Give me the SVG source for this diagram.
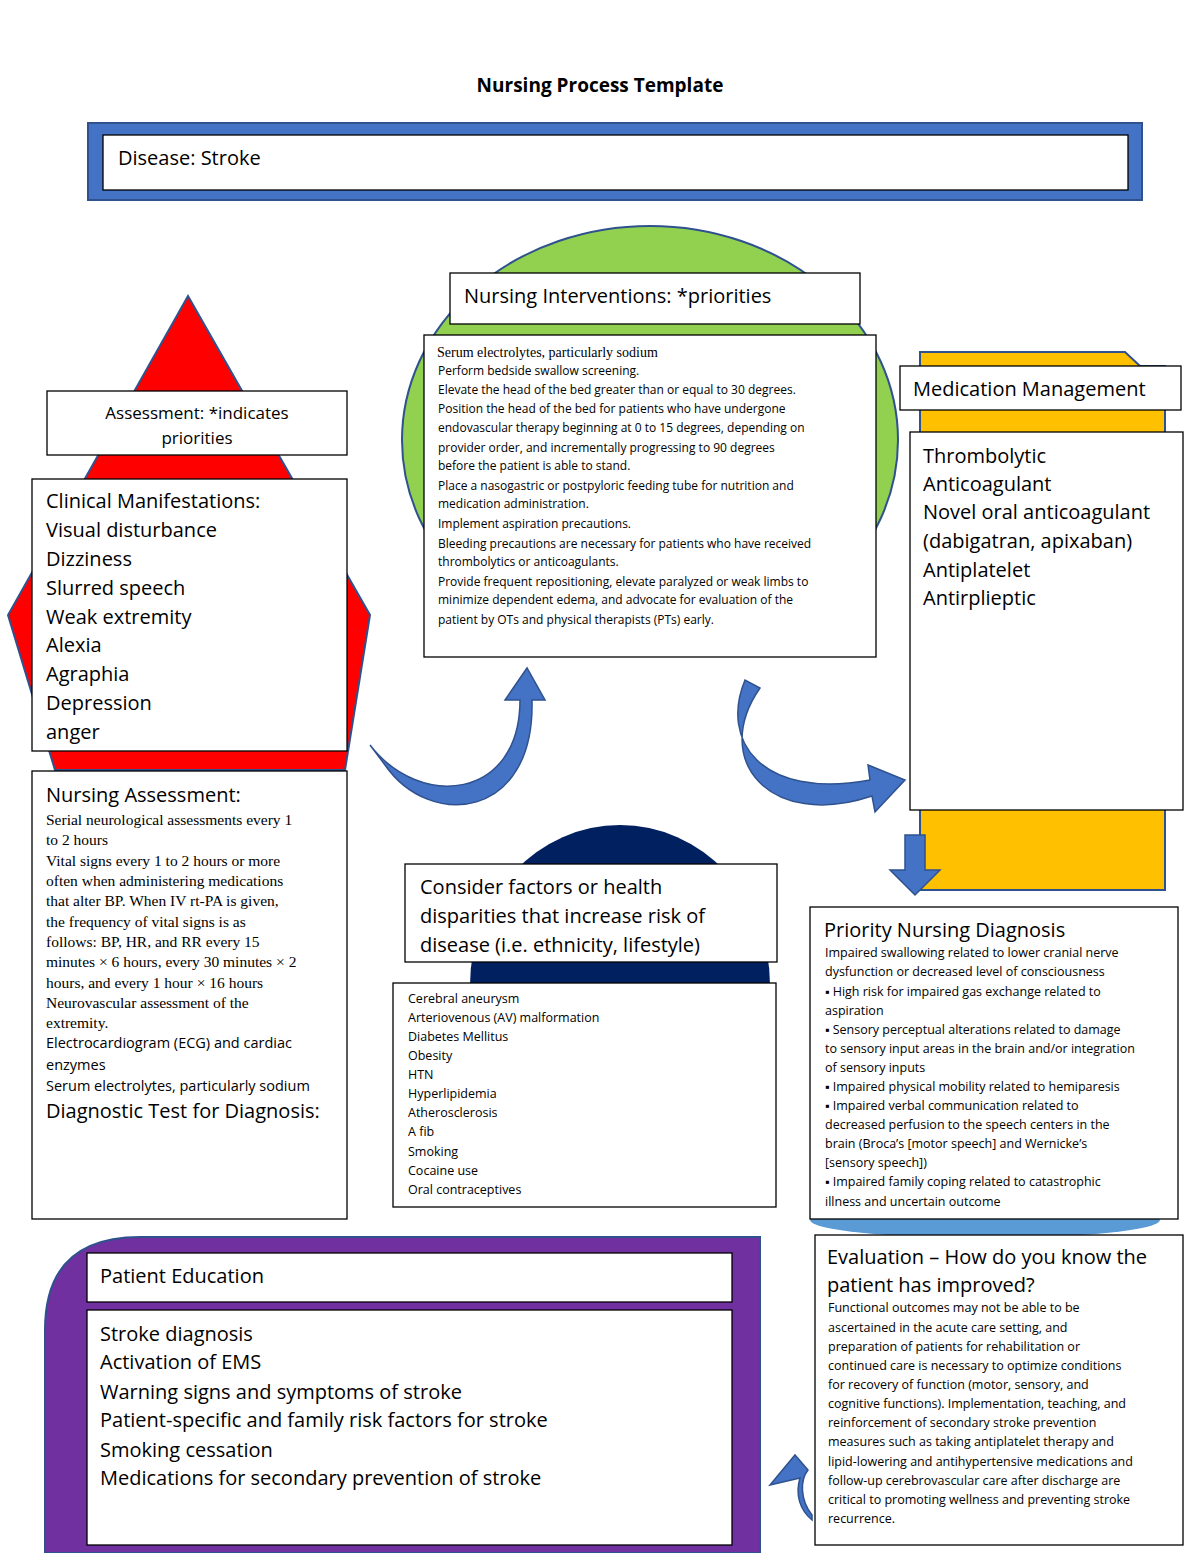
<svg xmlns="http://www.w3.org/2000/svg" width="1200" height="1553" viewBox="0 0 1200 1553">
<style>
.b{fill:#fff;stroke:#000;stroke-width:1.3}
.t{font-family:"Open Sans","Liberation Sans",sans-serif;fill:#000}
.s{font-family:"Liberation Serif",serif;fill:#000}
.ar{fill:#4472C4;stroke:#2F528F;stroke-width:1.5}
</style>
<rect width="1200" height="1553" fill="#fff"/>
<text class="t" x="600" y="92" text-anchor="middle" font-size="19" font-weight="bold">Nursing Process Template</text>
<g id="disease">
<polygon points="88,123 1142,123 1142,200 88,200" fill="#4472C4" stroke="#2F528F" stroke-width="2"/>
<rect x="103" y="135" width="1025" height="55" class="b"/>
<text class="t" x="118" y="165" font-size="20">Disease: Stroke</text>
</g>
<g id="shapes">
<polygon points="188,296 370,615 345,770 55,770 8,615" fill="#FF0000" stroke="#2F528F" stroke-width="2"/>
<ellipse cx="650" cy="440" rx="248" ry="214" fill="#92D050" stroke="#2F528F" stroke-width="2"/>
<ellipse cx="620" cy="985" rx="150" ry="160" fill="#002060"/>
<polygon points="920,352 1125,352 1140,366 1165,366 1165,890 920,890" fill="#FFC000" stroke="#2F528F" stroke-width="2"/>
<ellipse cx="985" cy="1220" rx="175" ry="18" fill="#5B9BD5"/>
<path d="M45,1553 V1330 Q45,1237 140,1237 H760 V1553 Z" fill="#7030A0" stroke="#2F528F" stroke-width="2"/>
</g>
<g id="connectors">
<path class="ar" d="M370,745 C420,810 520,800 520,700 L505,700 L527,668 L545,700 L532,700 C535,820 430,830 385,765 Z"/>
<path class="ar" d="M745,680 C720,740 760,800 870,780 L868,765 L905,780 L875,812 L872,796 C770,830 710,760 760,688 Z"/>
<polygon class="ar" points="905,835 925,835 925,870 940,870 915,895 890,870 905,870"/>
<path class="ar" d="M812,1515 C800,1500 800,1480 808,1470 L795,1455 L770,1485 L800,1478 C795,1495 800,1510 812,1520 Z"/>
</g>
<g id="assessment">
<rect x="47" y="391" width="300" height="64" class="b"/>
<text class="t" x="197" y="419" font-size="17" text-anchor="middle">Assessment: *indicates</text>
<text class="t" x="197" y="444" font-size="17" text-anchor="middle">priorities</text>
</g>
<g id="clinical">
<rect x="32" y="479" width="315" height="272" class="b"/>
<text class="t" font-size="20"><tspan x="46" y="508">Clinical Manifestations:</tspan><tspan x="46" y="537">Visual disturbance</tspan><tspan x="46" y="566">Dizziness</tspan><tspan x="46" y="595">Slurred speech</tspan><tspan x="46" y="624">Weak extremity</tspan><tspan x="46" y="652">Alexia</tspan><tspan x="46" y="681">Agraphia</tspan><tspan x="46" y="710">Depression</tspan><tspan x="46" y="739">anger</tspan></text>
</g>
<g id="nursingAssessment">
<rect x="32" y="771" width="315" height="448" class="b"/>
<text class="t" x="46" y="802" font-size="20">Nursing Assessment:</text>
<text class="s" font-size="15.5"><tspan x="46" y="825">Serial neurological assessments every 1</tspan><tspan x="46" y="845">to 2 hours</tspan><tspan x="46" y="866">Vital signs every 1 to 2 hours or more</tspan><tspan x="46" y="886">often when administering medications</tspan><tspan x="46" y="906">that alter BP. When IV rt-PA is given,</tspan><tspan x="46" y="927">the frequency of vital signs is as</tspan><tspan x="46" y="947">follows: BP, HR, and RR every 15</tspan><tspan x="46" y="967">minutes × 6 hours, every 30 minutes × 2</tspan><tspan x="46" y="988">hours, and every 1 hour × 16 hours</tspan><tspan x="46" y="1008">Neurovascular assessment of the</tspan><tspan x="46" y="1028">extremity.</tspan></text>
<text class="t" font-size="14.5"><tspan x="46" y="1048">Electrocardiogram (ECG) and cardiac</tspan><tspan x="46" y="1070">enzymes</tspan><tspan x="46" y="1091">Serum electrolytes, particularly sodium</tspan></text>
<text class="t" x="46" y="1118" font-size="20">Diagnostic Test for Diagnosis:</text>
</g>
<g id="interventionsTitle">
<rect x="450" y="273" width="410" height="51" class="b"/>
<text class="t" x="464" y="303" font-size="20">Nursing Interventions: *priorities</text>
</g>
<g id="interventions">
<rect x="424" y="335" width="452" height="322" class="b"/>
<text class="s" x="437" y="357" font-size="14">Serum electrolytes, particularly sodium</text>
<text class="t" font-size="12"><tspan x="438" y="375">Perform bedside swallow screening.</tspan><tspan x="438" y="394">Elevate the head of the bed greater than or equal to 30 degrees.</tspan><tspan x="438" y="413">Position the head of the bed for patients who have undergone</tspan><tspan x="438" y="432">endovascular therapy beginning at 0 to 15 degrees, depending on</tspan><tspan x="438" y="452">provider order, and incrementally progressing to 90 degrees</tspan><tspan x="438" y="470">before the patient is able to stand.</tspan><tspan x="438" y="490">Place a nasogastric or postpyloric feeding tube for nutrition and</tspan><tspan x="438" y="508">medication administration.</tspan><tspan x="438" y="528">Implement aspiration precautions.</tspan><tspan x="438" y="548">Bleeding precautions are necessary for patients who have received</tspan><tspan x="438" y="566">thrombolytics or anticoagulants.</tspan><tspan x="438" y="586">Provide frequent repositioning, elevate paralyzed or weak limbs to</tspan><tspan x="438" y="604">minimize dependent edema, and advocate for evaluation of the</tspan><tspan x="438" y="624">patient by OTs and physical therapists (PTs) early.</tspan></text>
</g>
<g id="medTitle">
<rect x="900" y="366" width="281" height="44" class="b"/>
<text class="t" x="913" y="396" font-size="20">Medication Management</text>
</g>
<g id="meds">
<rect x="910" y="432" width="273" height="378" class="b"/>
<text class="t" font-size="20"><tspan x="923" y="463">Thrombolytic</tspan><tspan x="923" y="491">Anticoagulant</tspan><tspan x="923" y="519">Novel oral anticoagulant</tspan><tspan x="923" y="548">(dabigatran, apixaban)</tspan><tspan x="923" y="577">Antiplatelet</tspan><tspan x="923" y="605">Antirplieptic</tspan></text>
</g>
<g id="consider">
<rect x="405" y="864" width="372" height="98" class="b"/>
<text class="t" font-size="20"><tspan x="420" y="894">Consider factors or health</tspan><tspan x="420" y="923">disparities that increase risk of</tspan><tspan x="420" y="952">disease (i.e. ethnicity, lifestyle)</tspan></text>
</g>
<g id="risks">
<rect x="393" y="983" width="383" height="224" class="b"/>
<text class="t" font-size="12.5"><tspan x="408" y="1003">Cerebral aneurysm</tspan><tspan x="408" y="1022">Arteriovenous (AV) malformation</tspan><tspan x="408" y="1041">Diabetes Mellitus</tspan><tspan x="408" y="1060">Obesity</tspan><tspan x="408" y="1079">HTN</tspan><tspan x="408" y="1098">Hyperlipidemia</tspan><tspan x="408" y="1117">Atherosclerosis</tspan><tspan x="408" y="1136">A fib</tspan><tspan x="408" y="1156">Smoking</tspan><tspan x="408" y="1175">Cocaine use</tspan><tspan x="408" y="1194">Oral contraceptives</tspan></text>
</g>
<g id="priority">
<rect x="810" y="907" width="368" height="312" class="b"/>
<text class="t" x="824" y="937" font-size="20">Priority Nursing Diagnosis</text>
<text class="t" font-size="12.5"><tspan x="825" y="957">Impaired swallowing related to lower cranial nerve</tspan><tspan x="825" y="976">dysfunction or decreased level of consciousness</tspan><tspan x="825" y="996">▪ High risk for impaired gas exchange related to</tspan><tspan x="825" y="1015">aspiration</tspan><tspan x="825" y="1034">▪ Sensory perceptual alterations related to damage</tspan><tspan x="825" y="1053">to sensory input areas in the brain and/or integration</tspan><tspan x="825" y="1072">of sensory inputs</tspan><tspan x="825" y="1091">▪ Impaired physical mobility related to hemiparesis</tspan><tspan x="825" y="1110">▪ Impaired verbal communication related to</tspan><tspan x="825" y="1129">decreased perfusion to the speech centers in the</tspan><tspan x="825" y="1148">brain (Broca’s [motor speech] and Wernicke’s</tspan><tspan x="825" y="1167">[sensory speech])</tspan><tspan x="825" y="1186">▪ Impaired family coping related to catastrophic</tspan><tspan x="825" y="1206">illness and uncertain outcome</tspan></text>
</g>
<g id="evaluation">
<rect x="815" y="1235" width="368" height="310" class="b"/>
<text class="t" font-size="20"><tspan x="827" y="1264">Evaluation – How do you know the</tspan><tspan x="827" y="1292">patient has improved?</tspan></text>
<text class="t" font-size="12.5"><tspan x="828" y="1312">Functional outcomes may not be able to be</tspan><tspan x="828" y="1332">ascertained in the acute care setting, and</tspan><tspan x="828" y="1351">preparation of patients for rehabilitation or</tspan><tspan x="828" y="1370">continued care is necessary to optimize conditions</tspan><tspan x="828" y="1389">for recovery of function (motor, sensory, and</tspan><tspan x="828" y="1408">cognitive functions). Implementation, teaching, and</tspan><tspan x="828" y="1427">reinforcement of secondary stroke prevention</tspan><tspan x="828" y="1446">measures such as taking antiplatelet therapy and</tspan><tspan x="828" y="1466">lipid-lowering and antihypertensive medications and</tspan><tspan x="828" y="1485">follow-up cerebrovascular care after discharge are</tspan><tspan x="828" y="1504">critical to promoting wellness and preventing stroke</tspan><tspan x="828" y="1523">recurrence.</tspan></text>
</g>
<g id="educationTitle">
<rect x="87" y="1253" width="645" height="49" class="b"/>
<text class="t" x="100" y="1283" font-size="20">Patient Education</text>
</g>
<g id="education">
<rect x="87" y="1310" width="645" height="235" class="b"/>
<text class="t" font-size="20"><tspan x="100" y="1341">Stroke diagnosis</tspan><tspan x="100" y="1369">Activation of EMS</tspan><tspan x="100" y="1399">Warning signs and symptoms of stroke</tspan><tspan x="100" y="1427">Patient-specific and family risk factors for stroke</tspan><tspan x="100" y="1457">Smoking cessation</tspan><tspan x="100" y="1485">Medications for secondary prevention of stroke</tspan></text>
</g>
</svg>
